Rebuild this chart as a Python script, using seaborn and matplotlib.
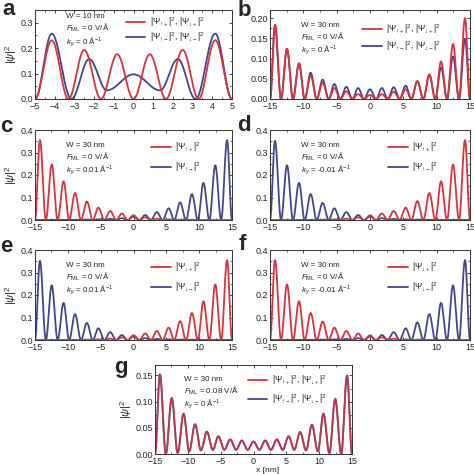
import numpy as np
import pandas as pd
import matplotlib
matplotlib.use("Agg")
import matplotlib.pyplot as plt
import seaborn as sns
from matplotlib.ticker import MultipleLocator, FormatStrFormatter

sns.set_style("ticks")
plt.rcParams['font.family'] = ['Liberation Sans', 'DejaVu Sans']
plt.rcParams['mathtext.fontset'] = 'custom'
plt.rcParams['mathtext.rm'] = 'Liberation Sans'
plt.rcParams['mathtext.it'] = 'Liberation Sans:italic'
plt.rcParams['mathtext.bf'] = 'Liberation Sans:bold'
plt.rcParams['xtick.direction'] = 'in'
plt.rcParams['ytick.direction'] = 'in'
plt.rcParams['xtick.top'] = True
plt.rcParams['ytick.right'] = True

RED = "#d8343c"
BLUE = "#44468e"

# ---- panel a (W = 10 nm): extrema ----
a_red_x = [-5, -4.15, -3.3, -2.5, -1.65, -0.83, 0, 0.83, 1.65, 2.5, 3.3, 4.15, 5]
a_red_y = [0, 0.231, 0, 0.193, 0, 0.176, 0, 0.176, 0, 0.193, 0, 0.231, 0]
a_blue_x = [-5, -4.15, -3.15, -2.25, -1.35, 0, 1.35, 2.25, 3.15, 4.15, 5]
a_blue_y = [0, 0.257, 0, 0.157, 0.034, 0.097, 0.034, 0.157, 0, 0.257, 0]

# ---- panels b-g (W = 30 nm): peak and node positions ----
peak_x = [-14.25, -12.45, -10.65, -8.9, -7.1, -5.35, -3.55, -1.78, 0,
          1.78, 3.55, 5.35, 7.1, 8.9, 10.65, 12.45, 14.25]
node_x = [-15, -13.35, -11.55, -9.8, -8.0, -6.2, -4.45, -2.65, -0.9,
          0.9, 2.65, 4.45, 6.2, 8.0, 9.8, 11.55, 13.35, 15]
zero_nodes = [0] * 18

b_red_peaks = [0.183, 0.124, 0.088, 0.058, 0.040, 0.027, 0.019, 0.012, 0.010,
               0.012, 0.018, 0.024, 0.044, 0.061, 0.093, 0.136, 0.200]
b_blue_peaks = [0.183, 0.124, 0.088, 0.065, 0.048, 0.037, 0.030, 0.027, 0.024,
                0.027, 0.029, 0.033, 0.044, 0.058, 0.078, 0.105, 0.149]

c_red_peaks = [0.355, 0.247, 0.172, 0.120, 0.082, 0.055, 0.040, 0.029, 0.021,
               0.012, 0.006, 0.003, 0.002, 0.001, 0, 0, 0]
c_blue_peaks = [0, 0, 0, 0.001, 0.002, 0.003, 0.005, 0.008, 0.015,
                0.022, 0.035, 0.052, 0.078, 0.115, 0.165, 0.243, 0.355]

d_red_peaks = [0, 0, 0, 0.001, 0.002, 0.003, 0.006, 0.012, 0.021,
               0.029, 0.040, 0.055, 0.084, 0.120, 0.172, 0.247, 0.355]
d_blue_peaks = [0.352, 0.243, 0.165, 0.115, 0.076, 0.052, 0.035, 0.022, 0.015,
                0.008, 0.005, 0.003, 0.002, 0.001, 0, 0, 0]

g_red_peaks = [0.152, 0.107, 0.077, 0.056, 0.042, 0.033, 0.027, 0.025, 0.023,
               0.025, 0.027, 0.033, 0.041, 0.055, 0.077, 0.105, 0.150]
g_blue_peaks = [0.152, 0.107, 0.077, 0.057, 0.043, 0.034, 0.028, 0.026, 0.024,
                0.026, 0.028, 0.034, 0.042, 0.056, 0.077, 0.105, 0.150]
g_nodes = [0, 0, 0.002, 0.005, 0.007, 0.008, 0.008, 0.008, 0.008,
           0.008, 0.008, 0.008, 0.008, 0.007, 0.005, 0.002, 0, 0]

# legend labels
up_p, up_m = "$|\\Psi_{↑+}|^2$", "$|\\Psi_{↑-}|^2$"
dn_p, dn_m = "$|\\Psi_{↓+}|^2$", "$|\\Psi_{↓-}|^2$"
both_p = up_p + ", " + dn_p
both_m = up_m + ", " + dn_m


def smooth(ext_x, ext_y, n=30):
    # join successive extrema with half-cosine segments
    xs, ys = [], []
    for i in range(len(ext_x) - 1):
        t = np.linspace(0, 1, n, endpoint=False)
        w = 0.5 - 0.5 * np.cos(np.pi * t)
        xs.append(ext_x[i] + (ext_x[i + 1] - ext_x[i]) * t)
        ys.append(ext_y[i] + (ext_y[i + 1] - ext_y[i]) * w)
    xs.append([ext_x[-1]])
    ys.append([ext_y[-1]])
    return np.concatenate(xs), np.concatenate(ys)


def interleave(peaks, nodes):
    ex, ey = [], []
    for i in range(len(peaks)):
        ex += [node_x[i], peak_x[i]]
        ey += [nodes[i], peaks[i]]
    ex.append(node_x[-1])
    ey.append(nodes[-1])
    return ex, ey


def frame(curves):
    parts = []
    for label, (ex, ey) in curves:
        x, y = smooth(ex, ey)
        parts.append(pd.DataFrame({"x": x, "psi": y, "state": label}))
    return pd.concat(parts, ignore_index=True)


W = H = 474.0
fig = plt.figure(figsize=(4.74, 4.74), dpi=100)


def px_axes(left, top, right, bottom):
    return fig.add_axes([left / W, 1 - bottom / H, (right - left) / W, (bottom - top) / H])


txt30 = "W = 30 nm"
f0 = "$F_{\\rm ML}$ = 0 V/Å"
panels = [
    dict(letter="a", box=(35, 10, 232, 99), lab=(both_p, both_m),
         red=(a_red_x, a_red_y), blue=(a_blue_x, a_blue_y),
         xlim=(-5, 5), xstep=1, ylim=(0, 0.35), ystep=0.1, fmt="%.1f",
         txt=("W = 10 nm", f0, "$k_y$ = 0 Å$^{-1}$"),
         ty=(0.93, 0.80, 0.65), tx=0.155, leg=(0.46, 0.94), lsp=0.2, ylab=True,
         lbl=(2, 15)),
    dict(letter="b", box=(270, 10, 470, 99), lab=(both_p, both_m),
         red=interleave(b_red_peaks, zero_nodes), blue=interleave(b_blue_peaks, zero_nodes),
         xlim=(-15, 15), xstep=5, ylim=(0, 0.22), ystep=0.05, fmt="%.2f",
         txt=(txt30, f0, "$k_y$ = 0 Å$^{-1}$"),
         ty=(0.83, 0.70, 0.55), tx=0.155, leg=(0.46, 0.86), lsp=0.4, ylab=False,
         lbl=(238, 16)),
    dict(letter="c", box=(35, 130, 232, 220), lab=(up_p, up_m),
         red=interleave(c_red_peaks, zero_nodes), blue=interleave(c_blue_peaks, zero_nodes),
         xlim=(-15, 15), xstep=5, ylim=(0, 0.4), ystep=0.1, fmt="%.1f",
         txt=(txt30, f0, "$k_y$ = 0.01 Å$^{-1}$"),
         ty=(0.83, 0.70, 0.56), tx=0.155, leg=(0.59, 0.88), lsp=0.7, ylab=True,
         lbl=(0, 132)),
    dict(letter="d", box=(270, 130, 470, 220), lab=(up_p, up_m),
         red=interleave(d_red_peaks, zero_nodes), blue=interleave(d_blue_peaks, zero_nodes),
         xlim=(-15, 15), xstep=5, ylim=(0, 0.4), ystep=0.1, fmt="%.1f",
         txt=(txt30, f0, "$k_y$ = -0.01 Å$^{-1}$"),
         ty=(0.83, 0.70, 0.56), tx=0.155, leg=(0.59, 0.88), lsp=0.7, ylab=False,
         lbl=(237, 131)),
    dict(letter="e", box=(35, 250, 232, 340), lab=(dn_p, dn_m),
         red=interleave(d_red_peaks, zero_nodes), blue=interleave(d_blue_peaks, zero_nodes),
         xlim=(-15, 15), xstep=5, ylim=(0, 0.4), ystep=0.1, fmt="%.1f",
         txt=(txt30, f0, "$k_y$ = 0.01 Å$^{-1}$"),
         ty=(0.83, 0.70, 0.56), tx=0.155, leg=(0.59, 0.88), lsp=0.7, ylab=True,
         lbl=(0, 252)),
    dict(letter="f", box=(270, 250, 470, 340), lab=(dn_p, dn_m),
         red=interleave(c_red_peaks, zero_nodes), blue=interleave(c_blue_peaks, zero_nodes),
         xlim=(-15, 15), xstep=5, ylim=(0, 0.4), ystep=0.1, fmt="%.1f",
         txt=(txt30, f0, "$k_y$ = -0.01 Å$^{-1}$"),
         ty=(0.83, 0.70, 0.56), tx=0.155, leg=(0.59, 0.88), lsp=0.7, ylab=False,
         lbl=(239, 250)),
    dict(letter="g", box=(155, 365, 352, 454), lab=(both_p, both_m),
         red=interleave(g_red_peaks, g_nodes), blue=interleave(g_blue_peaks, g_nodes),
         xlim=(-15, 15), xstep=5, ylim=(0, 0.17), ystep=0.05, fmt="%.2f",
         txt=(txt30, "$F_{\\rm ML}$ = 0.08 V/Å", "$k_y$ = 0 Å$^{-1}$"),
         ty=(0.84, 0.71, 0.57), tx=0.145, leg=(0.47, 0.90), lsp=0.6, ylab=True,
         lbl=(114, 373)),
]

for p in panels:
    ax = px_axes(*p["box"])
    red_lab, blue_lab = p["lab"]
    df = frame([(blue_lab, p["blue"]), (red_lab, p["red"])])
    sns.lineplot(data=df, x="x", y="psi", hue="state", hue_order=[blue_lab, red_lab],
                 palette=[BLUE, RED], estimator=None, sort=False, lw=1.3, ax=ax)
    if p["letter"] == "g":
        ax.lines[1].set_alpha(0.8)
    ax.set_xlim(*p["xlim"])
    ax.set_ylim(*p["ylim"])
    ax.xaxis.set_major_locator(MultipleLocator(p["xstep"]))
    ax.yaxis.set_major_locator(MultipleLocator(p["ystep"]))
    ax.yaxis.set_major_formatter(FormatStrFormatter(p["fmt"]))
    ax.xaxis.set_minor_locator(MultipleLocator(p["xstep"] / 2))
    ax.yaxis.set_minor_locator(MultipleLocator(p["ystep"] / 2))
    ax.tick_params(which="major", length=2.5, width=0.6, labelsize=6.5, pad=1.5)
    ax.tick_params(axis="x", which="major", pad=2.5)
    ax.tick_params(which="minor", length=1.3, width=0.5)
    for s in ax.spines.values():
        s.set_linewidth(0.7)
        s.set_color("#333333")
    ax.set_xlabel("")
    if p["ylab"]:
        ax.set_ylabel("$|\\psi|^2$", fontsize=8, labelpad=1)
    else:
        ax.set_ylabel("")
    for t, y in zip(p["txt"], p["ty"]):
        ax.text(p["tx"], y, t, transform=ax.transAxes, fontsize=5.8, va="center")
    h, l = ax.get_legend_handles_labels()
    ax.legend(h[::-1], l[::-1], loc="upper left", bbox_to_anchor=p["leg"], frameon=False,
              fontsize=6.2, handlelength=2.3, handletextpad=0.5, labelspacing=p["lsp"],
              borderpad=0, borderaxespad=0)
    fig.text(p["lbl"][0] / W, 1 - p["lbl"][1] / H, p["letter"], fontsize=16,
             fontweight="bold", va="baseline", ha="left")

fig.text(268 / W, 0.001, "x [nm]", fontsize=6, ha="center", va="bottom")

fig.savefig("out.png", dpi=100)
